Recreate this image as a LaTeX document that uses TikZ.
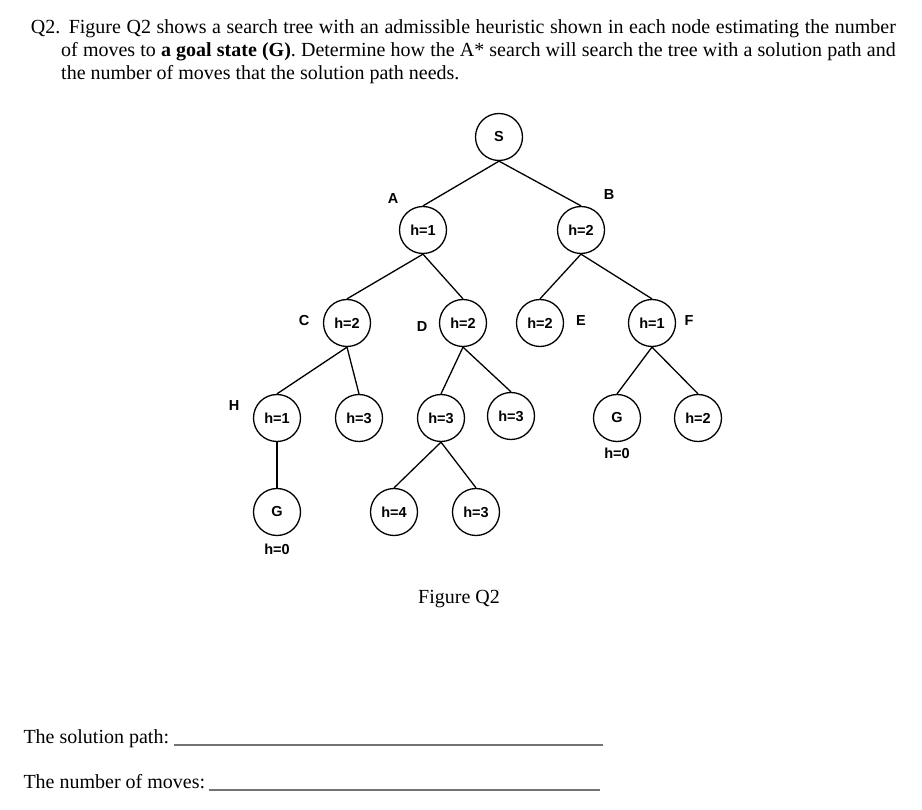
\documentclass[tikz,border=0pt]{standalone}
\usepackage{fontspec}
\setmainfont{Liberation Serif}
\newfontfamily\treefont{Liberation Sans}
\begin{document}
\begin{tikzpicture}[x=1pt,y=-1pt,
  tnode/.style={circle,draw,line width=1.3pt,minimum size=47pt,inner sep=0pt,font=\treefont\bfseries\fontsize{14.5}{16}\selectfont},
  tlabel/.style={inner sep=0pt,font=\treefont\bfseries\fontsize{14.5}{16}\selectfont},
  tedge/.style={line width=1.3pt},
  body/.style={inner sep=0pt,anchor=base west,font=\fontsize{20}{23}\selectfont},
  blank/.style={line width=1.5pt,black!55}]
\useasboundingbox (0,0) rectangle (922,810);
% header
\node[body] (l1) at (30.7,34) {\makebox[865pt][s]{Q2. Figure Q2 shows a search tree with an admissible heuristic shown in each node estimating the number}};
\node[body] (l2) at (61,57) {\makebox[834.5pt][s]{of moves to \textbf{a goal state (G)}. Determine how the A* search will search the tree with a solution path and}};
\node[body] (l3) at (61,80) {the number of moves that the solution path needs.};
% tree
\node[tnode] (S) at (499,137) {S};
\node[tnode] (A) at (423,230) {h=1};
\node[tnode] (B) at (581,230) {h=2};
\node[tnode] (C) at (347,323) {h=2};
\node[tnode] (D) at (463,323) {h=2};
\node[tnode] (E) at (540,323) {h=2};
\node[tnode] (F) at (652,323) {h=1};
\node[tnode] (H) at (277,418) {h=1};
\node[tnode] (Cr) at (359,418) {h=3};
\node[tnode] (Dl) at (441,418) {h=3};
\node[tnode] (Dr) at (511,416) {h=3};
\node[tnode] (G2) at (617,418) {G};
\node[tnode] (Fr) at (698,418) {h=2};
\node[tnode] (G1) at (277,512) {G};
\node[tnode] (Dll) at (394,512) {h=4};
\node[tnode] (Dlr) at (476,512) {h=3};
\draw[tedge] (S.south) -- (A.north);
\draw[tedge] (S.south) -- (B.north);
\draw[tedge] (A.south) -- (C.north);
\draw[tedge] (A.south) -- (D.north);
\draw[tedge] (B.south) -- (E.north);
\draw[tedge] (B.south) -- (F.north);
\draw[tedge] (C.south) -- (H.north);
\draw[tedge] (C.south) -- (Cr.north);
\draw[tedge] (D.south) -- (Dl.north);
\draw[tedge] (D.south) -- (Dr.north);
\draw[tedge] (F.south) -- (G2.north);
\draw[tedge] (F.south) -- (Fr.north);
\draw[tedge] (H.south) -- (G1.north);
\draw[tedge] (Dl.south) -- (Dll.north);
\draw[tedge] (Dl.south) -- (Dlr.north);
% labels
\node[tlabel] (lA) at (393,199) {A};
\node[tlabel] (lB) at (609,195) {B};
\node[tlabel] (lC) at (304,321) {C};
\node[tlabel] (lD) at (422,327) {D};
\node[tlabel] (lE) at (581,321) {E};
\node[tlabel] (lF) at (689,321) {F};
\node[tlabel] (lH) at (234,406) {H};
\node[tlabel] (h0a) at (617,453) {h=0};
\node[tlabel] (h0b) at (277,549) {h=0};
% caption
\node[body] (cap) at (418,603) {Figure Q2};
% answer lines
\node[body] (q1) at (23.3,743) {The solution path:};
\node[body] (q2) at (23.3,788) {The number of moves:};
\coordinate (u1a) at (174,745);
\coordinate (u1b) at (603,745);
\coordinate (u2a) at (209,790);
\coordinate (u2b) at (600,790);
\draw[blank] (u1a) -- (u1b);
\draw[blank] (u2a) -- (u2b);
\end{tikzpicture}
\end{document}
